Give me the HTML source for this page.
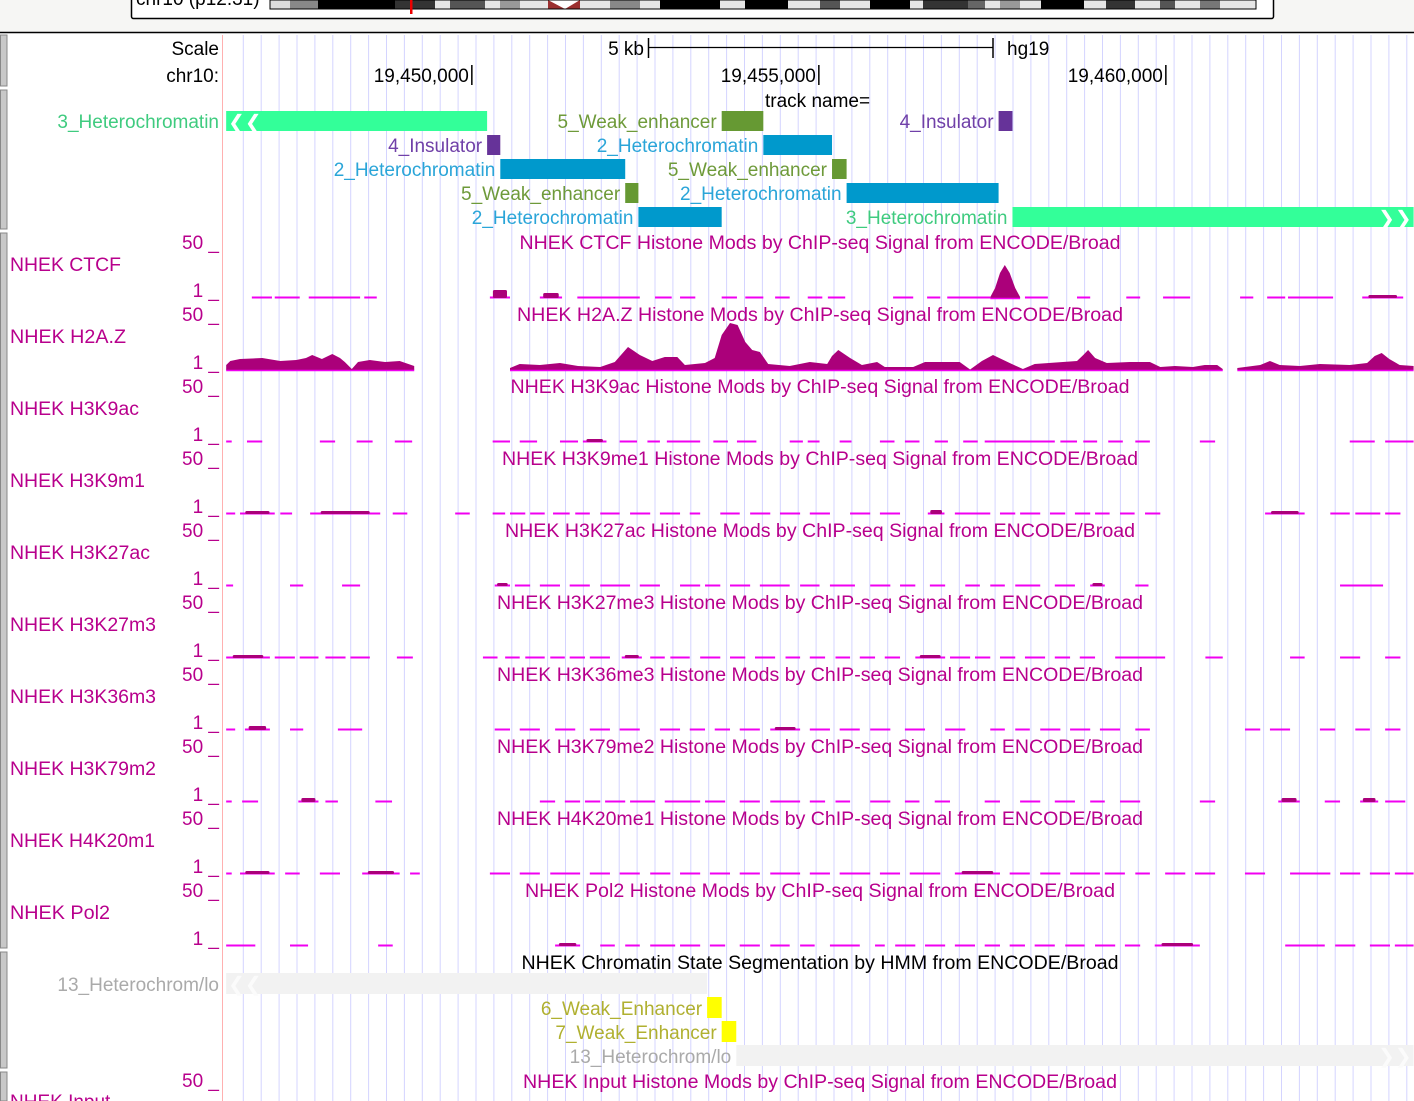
<!DOCTYPE html>
<html><head><meta charset="utf-8"><title>UCSC Genome Browser - NHEK tracks</title>
<style>
html,body{margin:0;padding:0;background:#fff;}
svg{display:block;font-family:"Liberation Sans",Arial,sans-serif;}
</style></head>
<body>
<svg id="browser" width="1414" height="1101" viewBox="0 0 1414 1101" xmlns="http://www.w3.org/2000/svg">
<rect x="0" y="0" width="1414" height="33" fill="#f6f6f4"/>
<g id="ideo"></g>
<line x1="0" y1="32.5" x2="1414" y2="32.5" stroke="#000" stroke-width="1.5"/>
<g id="side"></g>
<g id="grid"></g>
<line x1="222.5" y1="35" x2="222.5" y2="1101" stroke="#ffb0b0" stroke-width="1"/>
<g id="ruler"></g>
<g id="hmmTop"></g>
<g id="wigs"></g>
<g id="hmm2"></g>
</svg>
<script>
// ---- data (positions in kb offset from view start chr10:19,446,400) ----
const VIEW_START_KB = 19446.4;
const PX_PER_KB = 69.4;
const trackLabels = ["NHEK CTCF","NHEK H2A.Z","NHEK H3K9ac","NHEK H3K9m1","NHEK H3K27ac","NHEK H3K27m3","NHEK H3K36m3","NHEK H3K79m2","NHEK H4K20m1","NHEK Pol2"];
const trackTitles = ["NHEK CTCF Histone Mods by ChIP-seq Signal from ENCODE/Broad","NHEK H2A.Z Histone Mods by ChIP-seq Signal from ENCODE/Broad","NHEK H3K9ac Histone Mods by ChIP-seq Signal from ENCODE/Broad","NHEK H3K9me1 Histone Mods by ChIP-seq Signal from ENCODE/Broad","NHEK H3K27ac Histone Mods by ChIP-seq Signal from ENCODE/Broad","NHEK H3K27me3 Histone Mods by ChIP-seq Signal from ENCODE/Broad","NHEK H3K36me3 Histone Mods by ChIP-seq Signal from ENCODE/Broad","NHEK H3K79me2 Histone Mods by ChIP-seq Signal from ENCODE/Broad","NHEK H4K20me1 Histone Mods by ChIP-seq Signal from ENCODE/Broad","NHEK Pol2 Histone Mods by ChIP-seq Signal from ENCODE/Broad"];
const titleWidths = [601,606,619,636,630,646,646,646,646,590];
const labelWidths = [111,116,129,135,140,146,146,146,145,100];
const ticksKb = [19450, 19455, 19460];
const tickLabels = ["19,450,000","19,455,000","19,460,000"];

const ctcfIntervals = [[.43,.72],[.76,1.12],[1.25,1.99],[2.05,2.23],[3.86,4.15,8],[4.58,4.90,5],[5.12,6.02],[6.24,6.48],[6.60,6.82],[7.20,7.42],[7.54,7.80],[7.97,8.18],[8.44,8.65],[8.73,8.98],[9.67,9.96],[10.16,10.35],[10.45,11.07],[11.57,11.90],[12.32,12.51],[13.03,13.23],[13.56,13.95],[14.67,14.86],[15.06,15.32],[15.36,16.01],[16.43,17.02,3]];
const ctcfPeak = [[11.07,1],[11.14,10],[11.21,25],[11.28,33],[11.35,25],[11.43,10],[11.50,1]];

const h2azSeg1 = [[0.06,5],[0.12,9],[0.26,11],[0.58,12],[0.84,9],[1.07,10],[1.21,12],[1.30,15],[1.44,11],[1.59,16],[1.70,12],[1.77,8],[1.87,1],[1.96,8],[2.13,10],[2.35,8],[2.56,9],[2.77,4]];
const h2azSeg2 = [[4.15,2],[4.29,6],[4.58,5],[4.87,7],[5.13,4],[5.45,3],[5.66,8],[5.85,23],[6.02,15],[6.20,9],[6.38,13],[6.56,13],[6.67,5],[6.96,7],[7.10,12],[7.20,35],[7.32,47],[7.43,45],[7.54,28],[7.64,20],[7.75,18],[7.87,6],[8.18,4],[8.47,8],[8.72,6],[8.79,14],[8.88,20],[9.05,12],[9.22,5],[9.44,8],[9.55,3],[9.96,3],[10.13,8],[10.63,8],[10.78,0.5],[10.95,9],[11.11,15],[11.35,7],[11.54,1],[11.71,6],[12.32,9],[12.41,15],[12.48,20],[12.58,12],[12.75,7],[13.08,8],[13.37,8],[13.52,3],[13.73,4],[13.99,3],[14.16,5],[14.34,5],[14.42,1]];
const h2azSeg3 = [[14.63,2],[14.96,5],[15.10,9],[15.24,5],[15.53,4],[15.82,6],[16.25,5],[16.50,7],[16.61,14],[16.71,17],[16.82,11],[16.97,5],[17.17,4]];

const h3k9acIntervals = [[.06,.14],[.36,.58],[1.41,1.63],[1.94,2.17],[2.49,2.74],[3.90,4.15],[4.29,4.54],[4.87,5.13],[5.20,5.54,3],[5.73,5.98],[6.13,6.31],[6.41,6.89],[7.08,7.29],[7.42,7.70],[8.18,8.37],[8.44,8.61],[8.90,9.07],[9.48,9.69],[9.84,10.05],[10.27,10.46],[10.68,10.89],[10.99,12.00],[12.08,12.32],[12.41,12.61],[12.77,12.98],[13.16,13.37],[14.09,14.31],[16.25,16.61],[16.76,17.17]];
const h3k9me1Intervals = [[.06,.19],[.26,.76,3],[.84,1.01],[1.27,2.28,3],[2.46,2.67],[3.36,3.57],[3.90,4.08],[4.15,4.37],[4.44,4.65],[4.77,5.01],[5.09,5.30],[5.45,5.73],[5.88,6.17],[6.31,6.60],[6.74,6.89],[7.18,7.46],[7.61,7.90],[8.04,8.33],[8.47,8.76],[9.05,9.34],[9.48,9.77],[10.17,10.41,4],[10.56,11.07],[11.21,11.43],[11.50,11.79],[11.93,12.15],[12.29,12.51],[12.58,12.79],[12.94,13.15],[13.30,13.52],[15.03,15.60,3],[15.97,16.25],[16.33,16.69],[16.76,16.98]];
const h3k27acIntervals = [[.06,.16],[.98,1.17],[1.73,1.99],[3.93,4.15,3],[4.22,4.44],[4.58,4.87],[5.01,5.30],[5.45,5.88],[6.02,6.31],[6.60,6.89],[6.96,7.18],[7.32,7.61],[7.75,8.18],[8.33,8.61],[8.76,9.12],[9.34,9.63],[9.77,9.99],[10.20,10.42],[10.71,10.92],[11.07,11.28],[11.43,11.79],[12.00,12.29],[12.51,12.72,3],[13.16,13.35],[16.11,16.73]];
const h3k27me3Intervals = [[.06,.69,3],[.76,1.05],[1.12,1.39],[1.49,1.78],[1.85,2.13],[2.52,2.75],[3.76,3.97],[4.08,4.29],[4.37,4.65],[4.73,4.94],[5.01,5.23],[5.30,5.59],[5.76,6.05,3],[6.17,6.38],[6.46,6.74],[6.89,7.18],[7.32,7.54],[7.68,7.97],[8.12,8.33],[8.47,8.69],[8.84,9.05],[9.19,9.41],[9.55,9.77],[9.99,10.42,3],[10.49,10.78],[10.85,11.07],[11.21,11.43],[11.57,11.86],[12.00,12.22],[12.36,12.58],[12.87,13.59],[14.17,14.42],[15.39,15.60],[16.11,16.40],[16.76,16.98]];
const h3k36me3Intervals = [[.06,.19],[.33,.69,4],[.98,1.17],[1.67,2.02],[3.93,4.15],[4.29,4.58],[4.80,5.09],[5.30,5.59],[5.73,6.02],[6.31,6.60],[6.74,6.96],[7.10,7.32],[7.46,7.75],[7.90,8.33,3],[8.47,8.76],[8.90,9.19],[9.34,9.63],[9.84,10.13],[10.42,10.71],[11.07,11.28],[11.43,11.64],[11.79,12.08],[12.22,12.51],[12.65,12.94],[13.16,13.37],[14.74,14.96],[15.10,15.39],[15.82,16.04],[16.33,16.54],[16.76,16.98]];
const h3k79me2Intervals = [[.06,.14],[.29,.52],[1.10,1.39,4],[1.49,1.67],[2.21,2.45],[4.58,4.80],[4.94,5.16],[5.23,5.45],[5.52,5.81],[5.88,6.24],[6.38,6.89],[6.96,7.25],[7.46,7.75],[7.90,8.33],[8.47,8.69],[8.84,9.05],[9.34,9.63],[9.84,10.05],[10.27,10.49],[10.99,11.21],[11.50,11.79],[12.00,12.29],[12.51,12.72],[12.94,13.23],[14.09,14.31],[15.22,15.53,4],[15.89,16.11],[16.40,16.66,4],[16.76,17.05]];
const h4k20m1Intervals = [[.06,.14],[.26,.76,3],[.91,1.12],[1.41,1.70],[2.02,2.56,3],[2.71,2.85],[3.86,4.15],[4.29,4.58],[4.73,5.16],[5.30,5.59],[5.73,6.02],[6.17,6.46],[6.60,6.89],[7.03,7.32],[7.46,7.75],[7.90,8.33],[8.47,8.76],[8.90,9.34],[9.48,9.77],[9.91,10.35],[10.56,11.21,3],[11.35,11.64],[11.79,12.08],[12.22,12.65],[12.72,13.01],[13.16,13.37],[13.59,13.88],[14.02,14.31],[14.74,15.03],[15.39,15.97],[16.11,16.40],[16.54,16.83],[16.90,17.17]];
const pol2Intervals = [[.06,.48],[.98,1.24],[2.25,2.46],[4.80,5.16,3],[5.45,5.66],[5.81,6.02],[6.17,6.53],[6.60,6.89],[7.03,7.25],[7.46,7.75],[7.90,8.18],[8.33,8.54],[8.76,9.19],[9.41,9.55],[9.70,9.99],[10.13,10.42],[10.56,10.85],[10.99,11.21],[11.35,11.57],[11.71,12.00],[12.15,12.43],[12.58,12.87],[13.01,13.23],[13.44,14.09,3],[15.32,15.89],[16.04,16.33],[16.54,16.83],[16.90,17.17]];

// Broad HMM features: [startKb, endKb, row, stateIndex]
const hmmStates = ["3_Heterochromatin","4_Insulator","5_Weak_enhancer","2_Heterochromatin"];
const hmmFeatures = [[0.06,3.82,0,0],[7.20,7.80,0,2],[11.19,11.39,0,1],[3.82,4.01,1,1],[7.80,8.79,1,3],[4.01,5.81,2,3],[8.79,9.00,2,2],[5.81,6.00,3,2],[9.00,11.19,3,3],[6.00,7.20,4,3],[11.39,17.17,4,0]];
const hmm2States = ["13_Heterochrom/lo","6_Weak_Enhancer","7_Weak_Enhancer"];
const hmm2Features = [[0.06,6.99,0,0],[6.99,7.20,1,1],[7.20,7.41,2,2],[7.41,17.17,3,0]];

// ---- helpers ----
const NS = "http://www.w3.org/2000/svg";
function xS(kbOff){ return 222 + kbOff*PX_PER_KB; }
function el(tag, attrs, parent){ const e=document.createElementNS(NS,tag); for(const k in attrs) e.setAttribute(k,attrs[k]); parent.appendChild(e); return e; }
function txt(parent,x,y,s,opts){ const t=el("text",Object.assign({x:x,y:y,"font-size":19},opts||{}),parent); t.textContent=s; return t; }

// ideogram
const ideo=document.getElementById("ideo");
el("rect",{x:131.5,y:-5,width:1142,height:23.5,fill:"#fff",stroke:"#000","stroke-width":1.5,rx:2},ideo);
const ct=txt(ideo,136,5,"chr10 (p12.31)",{fill:"#000"});


const bands=[[270,290,"#ddd"],[290,318,"#888"],[318,370,"#000"],[370,395,"#000"],[395,435,"#333"],[435,450,"#e6e6e6"],[450,485,"#555"],[485,500,"#e6e6e6"],[500,520,"#999"],[520,548,"#e6e6e6"],[580,610,"#e6e6e6"],[610,640,"#888"],[640,660,"#e6e6e6"],[660,720,"#000"],[720,745,"#e6e6e6"],[745,788,"#000"],[788,820,"#e6e6e6"],[820,840,"#555"],[840,870,"#e6e6e6"],[870,910,"#000"],[910,923,"#e6e6e6"],[923,968,"#333"],[968,985,"#666"],[985,1000,"#e6e6e6"],[1000,1020,"#999"],[1020,1041,"#e6e6e6"],[1041,1084,"#000"],[1084,1106,"#e6e6e6"],[1106,1135,"#333"],[1135,1160,"#e6e6e6"],[1160,1175,"#555"],[1175,1200,"#e6e6e6"],[1200,1220,"#777"],[1220,1256,"#e6e6e6"]];
bands.forEach(b=>{ const r=el("rect",{x:b[0],y:0,width:b[1]-b[0],height:9,fill:b[2]},ideo);

 });
el("polygon",{points:"548,0 565,9 580,0 580,9 548,9",fill:"#9b3030"},ideo);
el("rect",{x:270,y:0,width:986,height:9,fill:"none",stroke:"#000","stroke-width":1},ideo);
el("rect",{x:410,y:0,width:2.5,height:14,fill:"#e00"},ideo);

// side buttons
const side=document.getElementById("side");
[[35,86],[90,229],[233,948],[952,1068],[1072,1101]].forEach(s=>{ const r=el("rect",{x:0.5,y:s[0],width:6.5,height:s[1]-s[0],fill:"#c8c8c8",stroke:"#888","stroke-width":1},side);

 });

// grid
const grid=document.getElementById("grid");
for(let x=243.3;x<1414;x+=17.9){ el("line",{x1:x,y1:35,x2:x,y2:1101,stroke:"#d4d4ff","stroke-width":1},grid); }

// ruler
const ruler=document.getElementById("ruler");
txt(ruler,219,55,"Scale",{"text-anchor":"end",fill:"#000"});
txt(ruler,219,82,"chr10:",{"text-anchor":"end",fill:"#000"});
txt(ruler,644,55,"5 kb",{"text-anchor":"end",fill:"#000"});
el("line",{x1:648,y1:47.5,x2:993,y2:47.5,stroke:"#000","stroke-width":1.2},ruler);
el("line",{x1:648.5,y1:38,x2:648.5,y2:58,stroke:"#000","stroke-width":1.5},ruler);
el("line",{x1:993,y1:38,x2:993,y2:58,stroke:"#000","stroke-width":1.5},ruler);
txt(ruler,1007,55,"hg19",{fill:"#000"});
ticksKb.forEach((t,i)=>{ const x=xS(t-VIEW_START_KB);
el("line",{x1:x,y1:65,x2:x,y2:85,stroke:"#000","stroke-width":1.5},ruler);
const tl=txt(ruler,x-3,82,tickLabels[i],{"text-anchor":"end",fill:"#000"});

 });
txt(ruler,765,107,"track name=",{fill:"#000"});

// Broad HMM top track
const hmmTop=document.getElementById("hmmTop");
const stateFill=["#33ff99","#663399","#669933","#0099cc"];
const stateText=["#3fcb7f","#7040a8","#6e9a3a","#2aa5d8"];
hmmFeatures.forEach(f=>{ const x1=xS(f[0]), x2=xS(f[1]), y=111+f[2]*24;
const r=el("rect",{x:x1,y:y,width:x2-x1,height:20,fill:stateFill[f[3]]},hmmTop);


const lx = (f[0]<0.1)? 219 : x1-5;
const t=txt(hmmTop,lx,y+17,hmmStates[f[3]],{"text-anchor":"end",fill:stateText[f[3]]});


if(f[0]<0.1) txt(hmmTop,x1+2,y+18,"❮❮",{fill:"#fff","font-size":20,"font-weight":"bold","font-family":"DejaVu Sans"});
if(f[1]>17.1) txt(hmmTop,x2-2,y+18,"❯❯",{"text-anchor":"end",fill:"#fff","font-size":20,"font-weight":"bold","font-family":"DejaVu Sans"}); });

// wiggle tracks
const wigs=document.getElementById("wigs");
const FILL="#ab007a", DASH="#f000f0", TXT="#b8008c";
const intervalSets=[ctcfIntervals,null,h3k9acIntervals,h3k9me1Intervals,h3k27acIntervals,h3k27me3Intervals,h3k36me3Intervals,h3k79me2Intervals,h4k20m1Intervals,pol2Intervals];
function drawIntervals(g,ints,base){ ints.forEach(iv=>{ const x1=xS(iv[0]),x2=xS(iv[1]);
const d=el("rect",{x:x1,y:base-1.5,width:x2-x1,height:2,fill:DASH},g);


if(iv[2]){ const h=iv[2]; el("rect",{x:x1+(x2-x1)*0.15,y:base-h,width:(x2-x1)*0.7,height:h,fill:FILL,rx:1.5},g);} }); }
function drawArea(g,pts,base){ let d="M"+xS(pts[0][0])+","+base; pts.forEach(p=>{ d+=" L"+xS(p[0]).toFixed(1)+","+(base-p[1]).toFixed(1); }); d+=" L"+xS(pts[pts.length-1][0])+","+base+" Z";
const a=el("path",{d:d,fill:FILL},g);


el("line",{x1:xS(pts[0][0]),y1:base+0.5,x2:xS(pts[pts.length-1][0]),y2:base+0.5,stroke:DASH,"stroke-width":1.5},g); }
trackLabels.forEach((name,i)=>{ const top=232+72*i, base=298+72*i;
const g=el("g",{},wigs);


const t1=txt(g,219,top+17,"50 _",{"text-anchor":"end",fill:TXT});


const t2=txt(g,219,top+65,"1 _",{"text-anchor":"end",fill:TXT});


const lab=txt(g,10,top+39,name,{fill:TXT,textLength:labelWidths[i],lengthAdjust:"spacingAndGlyphs"});


const tt=txt(g,820,top+17,trackTitles[i],{"text-anchor":"middle",fill:TXT,textLength:titleWidths[i],lengthAdjust:"spacingAndGlyphs"});


if(i===1){ drawArea(g,h2azSeg1,base); drawArea(g,h2azSeg2,base); drawArea(g,h2azSeg3,base); }
else drawIntervals(g,intervalSets[i],base);
if(i===0) drawArea(g,ctcfPeak,base); });

// chromatin state segmentation track
const hmm2=document.getElementById("hmm2");
const t2t=txt(hmm2,820,969,"NHEK Chromatin State Segmentation by HMM from ENCODE/Broad",{"text-anchor":"middle",fill:"#000",textLength:597,lengthAdjust:"spacingAndGlyphs"});


const s2Fill=["#f2f2f2","#ffff00","#ffff00"], s2Text=["#aaaaaa","#b0b030","#b0b030"];
hmm2Features.forEach(f=>{ const x1=xS(f[0]),x2=xS(f[1]),y=973+f[2]*24;
const r=el("rect",{x:x1,y:y,width:x2-x1,height:21,fill:s2Fill[f[3]]},hmm2);


const lx=(f[0]<0.1)?219:x1-5;
const t=txt(hmm2,lx,y+18,hmm2States[f[3]],{"text-anchor":"end",fill:s2Text[f[3]]});


if(f[0]<0.1) txt(hmm2,x1+2,y+18,"❮❮",{fill:"#fbfbfb","font-size":20,"font-weight":"bold","font-family":"DejaVu Sans"});
if(f[1]>17.1) txt(hmm2,x2-2,y+18,"❯❯",{"text-anchor":"end",fill:"#fbfbfb","font-size":20,"font-weight":"bold","font-family":"DejaVu Sans"}); });
const inp=el("g",{},hmm2);
txt(inp,219,1087,"50 _",{"text-anchor":"end",fill:TXT});
const it=txt(inp,820,1088,"NHEK Input Histone Mods by ChIP-seq Signal from ENCODE/Broad",{"text-anchor":"middle",fill:TXT,textLength:594,lengthAdjust:"spacingAndGlyphs"});


const il=txt(inp,10,1108,"NHEK Input",{fill:TXT});


</script>
</body></html>
